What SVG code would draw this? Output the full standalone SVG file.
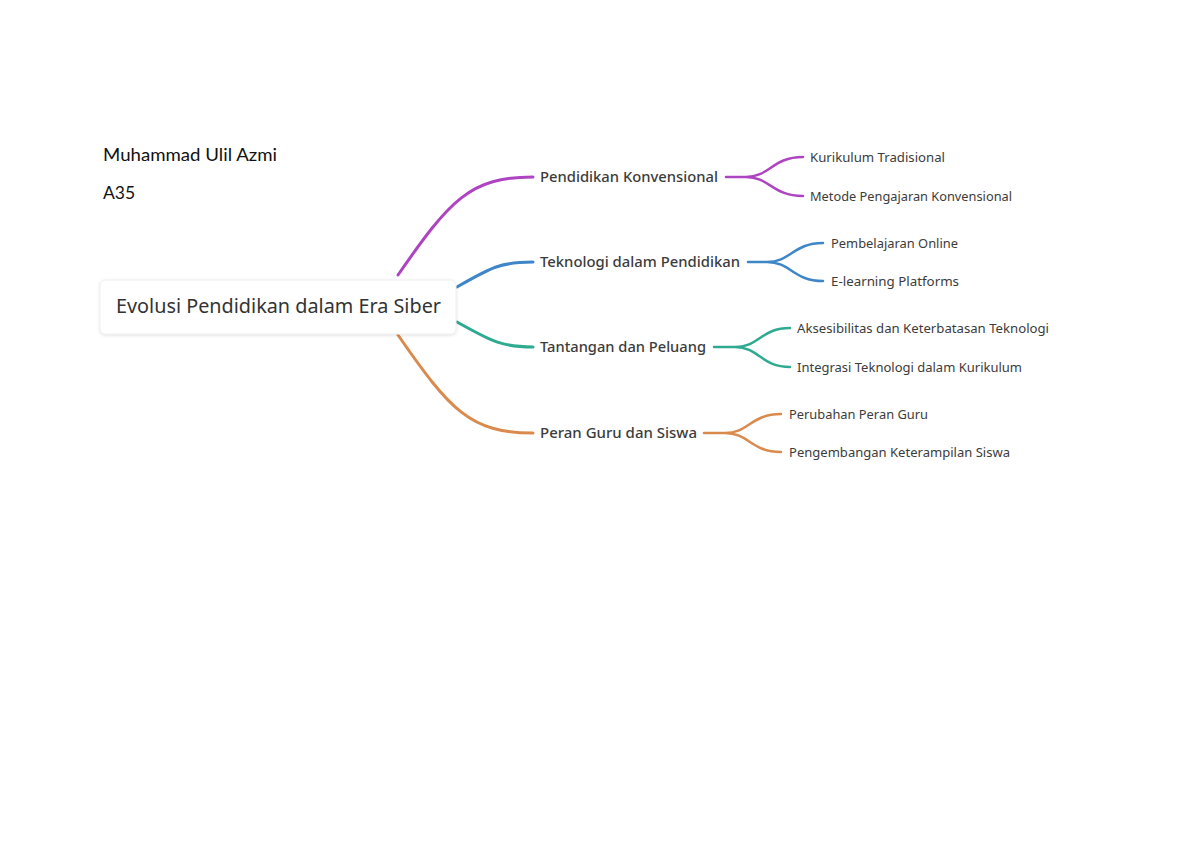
<svg xmlns="http://www.w3.org/2000/svg" width="1200" height="849" viewBox="0 0 1200 849">
<defs>
<filter id="sh" x="-10%" y="-30%" width="120%" height="160%"><feDropShadow dx="0" dy="1" stdDeviation="1.5" flood-color="#000" flood-opacity="0.12"/></filter>
</defs>
<style>
.c{fill:none;stroke-width:3;stroke-linecap:round}
.c2{fill:none;stroke-width:2.5;stroke-linecap:round}
.p{stroke:#AE44C2}.b{stroke:#3E86C8}.t{stroke:#2EAA91}.o{stroke:#DA8A4C}
.l1{font-family:"Noto Sans",sans-serif;font-size:14.8px;fill:#3c3c3c;font-weight:500}
.l2{font-family:"Noto Sans",sans-serif;font-size:12.9px;fill:#3c3c3c}
.hd{font-family:"Lato","Liberation Sans",sans-serif;font-size:17.5px;fill:#111}
</style>
<rect width="1200" height="849" fill="#fff"/>
<text class="hd" x="103" y="161" textLength="174" lengthAdjust="spacingAndGlyphs">Muhammad Ulil Azmi</text>
<text class="hd" x="103" y="199">A35</text>
<g id="connectors">
<path class="c p" d="M398,275 C450,200 470,177 533,177"/>
<path class="c b" d="M457,287 C490,268 500,262 533,262"/>
<path class="c t" d="M457,322 C490,340 500,347 533,347"/>
<path class="c o" d="M398,335 C450,410 470,433 533,433"/>
<path class="c2 p" d="M726,177 H746 C770,177 772,157 803,157 M746,177 C770,177 772,196 803,196"/>
<path class="c2 b" d="M748,262 H767 C791,262 793,243 823,243 M767,262 C791,262 793,281 823,281"/>
<path class="c2 t" d="M714,347 H735 C759,347 761,328 790,328 M735,347 C759,347 761,367 790,367"/>
<path class="c2 o" d="M704,433 H725 C749,433 751,414 781,414 M725,433 C749,433 751,452 781,452"/>
</g>
<g id="root">
<rect x="100" y="280" width="356" height="54" rx="5" fill="#fff" stroke="#eee" filter="url(#sh)"/>
<text x="116" y="313" font-family="Noto Sans,sans-serif" font-size="19.8" fill="#333" textLength="325" lengthAdjust="spacingAndGlyphs">Evolusi Pendidikan dalam Era Siber</text>
</g>
<g id="n1"><text class="l1" x="540" y="182" textLength="178" lengthAdjust="spacingAndGlyphs">Pendidikan Konvensional</text></g>
<g id="n2"><text class="l1" x="540" y="267" textLength="200" lengthAdjust="spacingAndGlyphs">Teknologi dalam Pendidikan</text></g>
<g id="n3"><text class="l1" x="540" y="352" textLength="166" lengthAdjust="spacingAndGlyphs">Tantangan dan Peluang</text></g>
<g id="n4"><text class="l1" x="540" y="438" textLength="157" lengthAdjust="spacingAndGlyphs">Peran Guru dan Siswa</text></g>
<g id="n1a"><text class="l2" x="810" y="162" textLength="135" lengthAdjust="spacingAndGlyphs">Kurikulum Tradisional</text></g>
<g id="n1b"><text class="l2" x="810" y="201" textLength="202" lengthAdjust="spacingAndGlyphs">Metode Pengajaran Konvensional</text></g>
<g id="n2a"><text class="l2" x="831" y="248" textLength="127" lengthAdjust="spacingAndGlyphs">Pembelajaran Online</text></g>
<g id="n2b"><text class="l2" x="831" y="286" textLength="128" lengthAdjust="spacingAndGlyphs">E-learning Platforms</text></g>
<g id="n3a"><text class="l2" x="797" y="333" textLength="252" lengthAdjust="spacingAndGlyphs">Aksesibilitas dan Keterbatasan Teknologi</text></g>
<g id="n3b"><text class="l2" x="797" y="372" textLength="225" lengthAdjust="spacingAndGlyphs">Integrasi Teknologi dalam Kurikulum</text></g>
<g id="n4a"><text class="l2" x="789" y="419" textLength="139" lengthAdjust="spacingAndGlyphs">Perubahan Peran Guru</text></g>
<g id="n4b"><text class="l2" x="789" y="457" textLength="221" lengthAdjust="spacingAndGlyphs">Pengembangan Keterampilan Siswa</text></g>
</svg>
